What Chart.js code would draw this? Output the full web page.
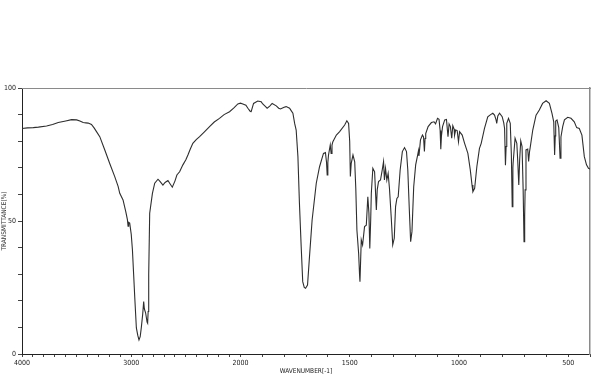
<!DOCTYPE html>
<html><head><meta charset="utf-8">
<script src="https://cdn.jsdelivr.net/npm/chart.js@4/dist/chart.umd.min.js"></script>
<style>html,body{margin:0;padding:0;background:#fff;}#wrap{width:601px;height:379px;}</style>
</head><body><div id="wrap"><canvas id="c" width="601" height="379"></canvas></div>
<script>
// Wavenumber (cm-1) and transmittance (%)
const wavenumbers = [4000,3950,3897,3850,3775,3720,3668,3600,3546,3500,3470,3440,3415,3394,3364,3340,3318,3288,3242,3196,3151,3120,3105,3075,3050,3035,3029,3024,3014,3000,2989,2978,2968,2953,2940,2929,2918,2908,2895,2886,2880,2868,2855,2850,2845,2840,2831,2806,2785,2755,2735,2710,2690,2664,2645,2624,2600,2582,2557,2527,2500,2481,2460,2436,2405,2374,2330,2283,2240,2192,2150,2100,2060,2024,2000,1989,1975,1966,1955,1951,1945,1940,1921,1905,1898,1885,1878,1866,1855,1836,1825,1817,1800,1791,1775,1768,1760,1752,1745,1737,1730,1722,1715,1708,1702,1693,1684,1672,1653,1638,1620,1611,1606,1603,1600,1597,1589,1585,1581,1577,1561,1546,1523,1513,1505,1500,1497,1493,1485,1477,1472,1467,1459,1455,1453,1450,1447,1441,1432,1424,1417,1412,1408,1404,1401,1394,1386,1378,1374,1368,1359,1351,1345,1341,1336,1330,1324,1318,1310,1303,1296,1290,1284,1278,1269,1259,1249,1240,1234,1227,1221,1215,1207,1198,1189,1185,1183,1180,1176,1167,1162,1158,1155,1152,1141,1126,1114,1107,1098,1091,1086,1083,1080,1075,1065,1057,1050,1045,1039,1033,1028,1022,1020,1015,1008,1002,997,985,974,959,948,940,936,928,918,906,898,883,868,855,845,837,830,827,822,814,802,795,791,787,784,781,773,765,760,756,753,752,743,735,731,726,722,717,711,706,702,699,697,693,685,681,677,674,662,647,632,617,601,586,574,566,562,559,557,551,543,537,533,525,517,502,487,472,461,449,437,426,416,407,400];
const transmittance = [84.8,85.0,85.1,85.3,85.7,86.3,87.0,87.6,88.1,88.0,87.6,87.0,86.9,86.8,86.3,85.0,83.6,81.7,76.7,71.5,66.7,63.0,60.4,57.9,53.5,50.5,48.0,49.5,49.2,45.0,39.1,30.0,21.5,9.8,7.0,5.3,6.5,9.8,15.0,19.7,17.0,15.4,12.0,11.6,16.0,30.0,52.9,60.4,64.2,65.7,64.8,63.5,64.5,65.2,64.0,62.7,65.0,67.3,68.5,71.1,73.0,74.8,77.0,79.2,80.6,81.7,83.5,85.5,87.2,88.6,90.0,91.1,92.5,94.0,94.3,94.0,93.5,92.4,91.2,91.1,92.8,94.2,95.1,94.8,94.0,93.0,92.4,93.2,94.2,93.3,92.4,92.1,92.8,93.0,92.4,91.5,90.5,86.7,84.2,74.2,56.6,40.3,27.2,25.0,24.7,25.9,36.6,50.4,64.2,70.4,75.4,75.7,72.0,67.3,72.0,74.8,78.6,75.4,78.5,79.8,82.3,83.6,86.1,87.7,86.7,80.0,66.7,71.7,74.8,72.2,62.0,46.6,37.8,30.0,27.2,35.0,42.9,41.0,47.9,48.4,59.1,52.9,39.7,50.0,60.4,69.8,68.5,54.1,61.7,64.8,65.4,69.2,72.3,65.4,69.8,65.4,67.9,62.3,51.6,41.0,43.5,55.4,58.5,59.1,69.2,76.1,77.6,76.1,69.2,54.1,42.2,46.0,62.9,71.1,74.8,76.5,74.5,77.0,80.5,82.3,81.6,76.1,81.0,82.9,85.5,87.0,87.3,86.5,88.6,88.2,84.0,77.0,82.0,85.5,88.0,88.2,81.7,86.5,85.5,81.1,85.8,84.5,82.3,84.2,84.0,79.8,83.6,82.3,79.2,75.4,69.2,63.5,61.0,62.3,70.4,77.3,79.2,84.8,89.2,90.0,90.5,89.8,88.0,86.7,89.5,90.5,89.2,87.0,84.8,71.0,78.0,86.7,88.6,86.7,75.0,55.4,70.0,71.7,81.1,79.2,73.0,63.5,73.0,80.1,78.0,61.7,42.2,52.0,61.7,76.7,77.0,72.4,76.0,77.5,84.2,89.8,91.7,94.2,95.2,94.2,90.5,87.3,74.8,82.0,87.6,88.0,85.1,73.6,81.6,85.5,88.0,89.0,88.6,87.3,85.1,84.8,82.3,74.2,71.1,69.8,69.5];
const xTickLabels = [4000, 3000, 2000, 1500, 1000, 500];
const yTickLabels = [0, 50, 100];

// IR chart convention: 4000-2000 cm-1 at half the scale of 2000-400 cm-1
function pos(w){ return w >= 2000 ? (4000 - w) / 2 : 1000 + (2000 - w); }
function inv(p){ return p <= 1000 ? 4000 - 2 * p : 2000 - (p - 1000); }
const xTickValues = [];
for (let w = 4000; w >= 400; w -= 100) xTickValues.push(w);

const fam = "'DejaVu Sans Condensed', 'Liberation Sans', Arimo, sans-serif";
const tickFont = {family: fam, size: 7};
new Chart(document.getElementById('c'), {
  type: 'line',
  data: {datasets: [{
    data: wavenumbers.map((w, i) => ({x: pos(w), y: transmittance[i]})),
    borderColor: '#2e2e2e', borderWidth: 1.1, pointRadius: 0, tension: 0, fill: false,
    xAxisID: 'x', yAxisID: 'y'
  }]},
  options: {
    responsive: false, animation: false, devicePixelRatio: 1,
    layout: {padding: {top: 88, right: 11, left: 0, bottom: 0}},
    plugins: {legend: {display: false}, tooltip: {enabled: false}},
    scales: {
      x: {
        type: 'linear', position: 'bottom', min: 0, max: 2600,
        afterBuildTicks: s => { s.ticks = xTickValues.map(w => ({value: pos(w)})); },
        afterFit: s => { s.height = 25; },
        ticks: {autoSkip: false, maxRotation: 0, padding: 2, color: '#222', font: tickFont,
          callback: v => { const w = Math.round(inv(v)); return xTickLabels.includes(w) ? String(w) : ''; }},
        grid: {drawOnChartArea: false, tickLength: 3, color: '#444'},
        border: {color: '#222', width: 1},
        title: {display: true, text: 'WAVENUMBER[-1]', color: '#222', font: {family: fam, size: 6.5}, padding: {top: 0, bottom: 4}}
      },
      y: {
        type: 'linear', position: 'left', min: 0, max: 100,
        afterBuildTicks: s => { const t = []; for (let v = 0; v <= 100; v += 10) t.push({value: v}); s.ticks = t; },
        afterFit: s => { s.width = 22; },
        ticks: {autoSkip: false, padding: 2, color: '#222', font: tickFont,
          callback: v => yTickLabels.includes(v) ? String(v) : ''},
        grid: {drawOnChartArea: false, tickLength: 4, color: '#444'},
        border: {color: '#222', width: 1},
        title: {display: true, text: 'TRANSMITTANCE(%)', color: '#333', font: {family: fam, size: 6.5}, padding: {top: 0, bottom: 0}}
      },
      xTop: {
        type: 'linear', position: 'top', min: 0, max: 2600,
        afterFit: s => { s.height = 0; },
        ticks: {display: false}, grid: {drawOnChartArea: false, drawTicks: false},
        border: {color: '#8a8a8a', width: 1}
      },
      yRight: {
        type: 'linear', position: 'right', min: 0, max: 100,
        afterFit: s => { s.width = 0; },
        ticks: {display: false}, grid: {drawOnChartArea: false, drawTicks: false},
        border: {color: '#8a8a8a', width: 1.5}
      }
    }
  }
});
</script></body></html>
